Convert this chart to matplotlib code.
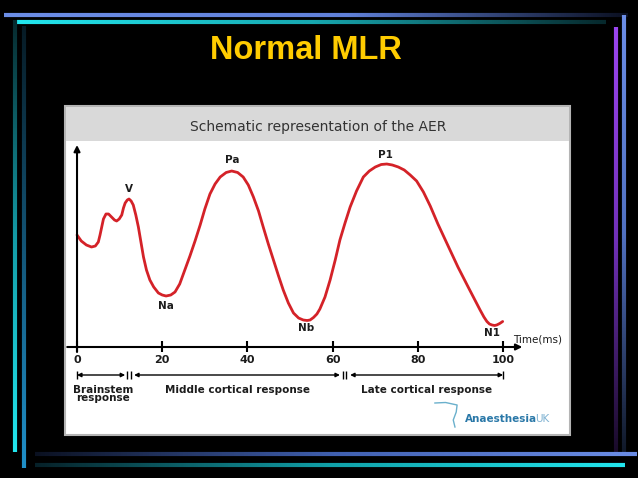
import numpy as np
import matplotlib
matplotlib.use("Agg")
import matplotlib.pyplot as plt
from matplotlib.collections import LineCollection
from matplotlib.colors import to_rgb

# AER waveform (time in ms, amplitude in arbitrary units)
TIME_MS = [0.0, 1.0, 2.2, 3.4, 4.3, 5.0, 5.4, 5.8, 6.2, 6.8, 7.4, 8.1, 8.8,
           9.3, 9.9, 10.5, 10.9, 11.3, 11.8, 12.2, 12.7, 13.2, 13.8, 14.4,
           15.0, 15.6, 16.3, 17.1, 18.0, 19.1, 20.0, 20.9, 22.0, 23.0, 24.1,
           25.3, 26.5, 27.7, 28.9, 30.0, 31.2, 32.4, 33.6, 35.0, 36.3, 37.7,
           39.0, 40.2, 41.4, 42.6, 43.7, 44.9, 46.1, 47.3, 48.4, 49.6, 50.8,
           52.0, 53.1, 54.0, 54.7, 55.5, 56.3, 57.0, 58.2, 59.4, 60.6, 61.7,
           62.9, 64.1, 65.6, 67.2, 68.6, 70.0, 71.4, 72.7, 74.0, 75.4, 76.8,
           78.2, 79.7, 81.3, 82.9, 84.7, 87.1, 89.4, 91.8, 94.6, 95.5, 96.2,
           96.8, 97.4, 98.0, 98.5, 99.2, 99.9]
AMPLITUDE = [112, 106, 102, 100, 101, 105, 112, 120, 128, 133, 133, 130, 127,
             126, 128, 132, 139, 144, 147, 148, 146, 142, 132, 120,
             105, 90, 77, 67, 60, 54, 52, 51, 52, 55, 63,
             77, 91, 106, 122, 138, 153, 163, 170, 174.5, 176, 174.5,
             170, 162, 150, 136, 120, 103, 87, 71, 57, 44, 34,
             29, 27, 26.5, 27, 29.5, 33, 38, 50, 67, 87, 107,
             124, 140, 156, 170, 176, 180, 182.5, 183, 182, 180, 177,
             172, 166, 155, 141, 123, 101, 80, 60, 37, 30, 25.5,
             23, 22, 21.5, 22, 23.5, 25.5]

PEAK_NAMES = ["V", "Na", "Pa", "Nb", "P1", "N1"]
PEAK_T = [12.2, 20.9, 36.4, 53.8, 72.3, 97.4]
PEAK_Y = [158, 41, 187, 19, 192, 14]

TICKS = [0, 20, 40, 60, 80, 100]

# response windows: (start, end, label)
WINDOWS = [(0.0, 11.3, "Brainstem\nresponse"),
           (13.4, 61.7, "Middle cortical response"),
           (64.1, 100.0, "Late cortical response")]
BREAK_BARS = [11.7, 12.6, 62.4, 63.2]

INK = "#1c1c1c"


def grad_line(ax, p0, p1, stops, lw, n=300):
    xs = np.linspace(p0[0], p1[0], n + 1)
    ys = np.linspace(p0[1], p1[1], n + 1)
    segs = np.stack([np.column_stack([xs[:-1], ys[:-1]]),
                     np.column_stack([xs[1:], ys[1:]])], axis=1)
    pos = [s[0] for s in stops]
    rgb = np.array([to_rgb(s[1]) for s in stops])
    f = np.linspace(0, 1, n)
    cols = np.column_stack([np.interp(f, pos, rgb[:, i]) for i in range(3)])
    ax.add_collection(LineCollection(segs, colors=cols, linewidths=lw,
                                     capstyle="butt"))


fig = plt.figure(figsize=(6.38, 4.78), dpi=100)
fig.patch.set_facecolor("black")

# slide background in pixel coordinates
bg = fig.add_axes([0, 0, 1, 1])
bg.set_xlim(0, 638)
bg.set_ylim(478, 0)
bg.axis("off")
bg.set_facecolor("black")

blue = "#6b8de6"
cyan = "#22e6ee"
grad_line(bg, (4, 15), (628, 15), [(0, blue), (0.55, "#5f80d8"), (1, "#0a0f20")], 3)
grad_line(bg, (17, 22), (606, 22), [(0, cyan), (0.5, "#17a8b0"), (1, "#06282c")], 3)
grad_line(bg, (15, 20), (15, 452), [(0, "#062a2e"), (0.5, "#139aa5"), (1, cyan)], 3)
grad_line(bg, (24, 26), (24, 468), [(0, "#061a24"), (1, "#1f8fc8")], 3)
grad_line(bg, (616, 27), (616, 452), [(0, "#9b45f0"), (0.5, "#7030b8"), (1, "#180a28")], 3)
grad_line(bg, (624, 15), (624, 452), [(0, blue), (0.5, "#5070c0"), (1, "#101828")], 3)
grad_line(bg, (35, 454), (637, 454), [(0, "#0a1020"), (0.5, "#4060b0"), (1, blue)], 3)
grad_line(bg, (35, 465), (625, 465), [(0, "#062028"), (0.5, "#10a0a8"), (1, cyan)], 3)

bg.text(306, 50, "Normal MLR", color="#ffcc00", fontsize=23.5, fontweight="bold",
        family="Liberation Sans", ha="center", va="center")

# white panel with grey header
bg.add_patch(plt.Rectangle((65, 106), 505, 329, facecolor="white",
                           edgecolor="#b4b4b4", lw=1.5))
bg.add_patch(plt.Rectangle((66, 107), 503, 34, facecolor="#d9d9d9",
                           edgecolor="none"))
bg.text(318, 127, "Schematic representation of the AER", color="#333333",
        fontsize=10, ha="center", va="center")

# chart axes (below the header)
ax = fig.add_axes([65 / 638, (478 - 435) / 478, 505 / 638, (435 - 143) / 478])
ax.set_facecolor("none")
ax.set_xlim(-2.82, 115.7)
ax.set_ylim(-88, 204)
ax.axis("off")

# axes with arrow heads
ax.annotate("", xy=(0, 202), xytext=(0, -5),
            arrowprops=dict(arrowstyle="-|>", color="black", lw=1.5,
                            mutation_scale=9, shrinkA=0, shrinkB=0))
ax.annotate("", xy=(104.5, 0), xytext=(-2.3, 0),
            arrowprops=dict(arrowstyle="-|>", color="black", lw=1.5,
                            mutation_scale=9, shrinkA=0, shrinkB=0))
ax.vlines(TICKS, -5, 6, color="black", lw=1.5)
for t in TICKS:
    ax.text(t, -13, str(t), ha="center", va="center", fontsize=8,
            fontweight="bold", color=INK)
ax.text(102.3, 7, "Time(ms)", ha="left", va="center", fontsize=7.5, color=INK)

# waveform
ax.plot(TIME_MS, AMPLITUDE, color="#d42228", lw=2, solid_joinstyle="round",
        solid_capstyle="round")
for name, t, y in zip(PEAK_NAMES, PEAK_T, PEAK_Y):
    ax.text(t, y, name, ha="center", va="center", fontsize=7.5,
            fontweight="bold", color=INK)

# response windows
yb = -28
for a, b, label in WINDOWS:
    ax.annotate("", xy=(b, yb), xytext=(a, yb),
                arrowprops=dict(arrowstyle="<|-|>", color="black", lw=1,
                                mutation_scale=6, shrinkA=0, shrinkB=0))
    y_lab = -47 if "\n" in label else -43
    ax.text((a + b) / 2 if "\n" not in label else 6.1, y_lab, label,
            ha="center", va="center", fontsize=7.5, fontweight="bold",
            color=INK, linespacing=0.85)
ax.vlines([0, 100] + BREAK_BARS, yb - 4, yb + 4, color="black", lw=1)

# AnaesthesiaUK logo
ax.plot([84.0, 86.5, 89.2, 89.0, 88.3, 88.7], [-56, -55.5, -58, -65, -73, -80],
        color="#6ab0cc", lw=1)
ax.text(91.0, -72, "Anaesthesia", ha="left", va="center", fontsize=7.5,
        fontweight="bold", color="#2a78a8")
ax.text(107.6, -72, "UK", ha="left", va="center", fontsize=7.5,
        color="#7fb2d2")

fig.savefig("out.png", dpi=100, facecolor="black")
